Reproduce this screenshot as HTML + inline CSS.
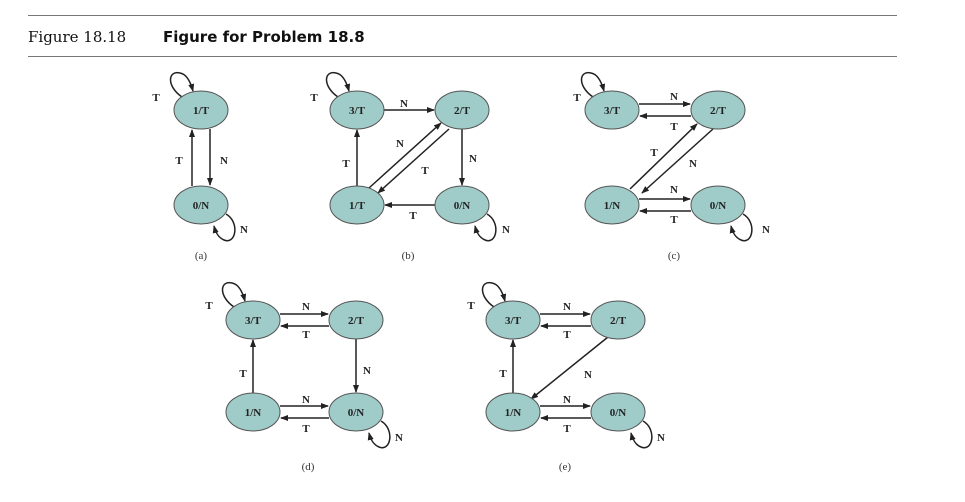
<!DOCTYPE html>
<html><head><meta charset="utf-8"><style>
html,body{margin:0;padding:0;background:#fff;}
body{width:965px;height:502px;position:relative;overflow:hidden;}
svg{position:absolute;left:0;top:0;}
.n{fill:#9fcbc8;stroke:#555;stroke-width:1;}
.t{font-family:"Liberation Serif",serif;font-weight:bold;font-size:11px;fill:#222;text-anchor:middle;}
.c{font-family:"Liberation Serif",serif;font-size:11px;fill:#333;text-anchor:middle;}
.e{stroke:#222;stroke-width:1.5;fill:none;marker-end:url(#ah);}
</style></head><body>
<svg width="965" height="502" viewBox="0 0 965 502">
<defs><marker id="ah" markerWidth="8" markerHeight="6" refX="7" refY="3" orient="auto" markerUnits="userSpaceOnUse"><path d="M0,0 L8,3 L0,6 Z" fill="#222"/></marker></defs>
<line x1="28" y1="15.5" x2="897" y2="15.5" stroke="#777" stroke-width="1"/>
<line x1="28" y1="56.5" x2="897" y2="56.5" stroke="#777" stroke-width="1"/>
<text x="28" y="42" style="font-family:'DejaVu Serif','Liberation Serif',serif;font-size:15px;fill:#111">Figure 18.18</text>
<text x="163" y="42" style="font-family:'DejaVu Sans','Liberation Sans',sans-serif;font-weight:bold;font-size:15px;fill:#111">Figure for Problem 18.8</text>

<!-- (a) -->
<path class="e" d="M182,97 C166,86 168,70 180,73 C186,74 190,80 193,91"/>
<path class="e" d="M226,214 C240,222 236,245 224,240 C219,238 216,234 214,226"/>
<line class="e" x1="192" y1="186" x2="192" y2="130"/>
<line class="e" x1="210" y1="129" x2="210" y2="185"/>
<ellipse class="n" cx="201" cy="110" rx="27" ry="19"/><text class="t" x="201" y="114">1/T</text>
<ellipse class="n" cx="201" cy="205" rx="27" ry="19"/><text class="t" x="201" y="209">0/N</text>
<text class="t" x="156" y="101">T</text><text class="t" x="179" y="164">T</text><text class="t" x="224" y="164">N</text><text class="t" x="244" y="233">N</text>
<text class="c" x="201" y="259">(a)</text>

<!-- (b) -->
<path class="e" d="M338,97 C322,86 324,70 336,73 C342,74 346,80 349,91"/>
<path class="e" d="M487,214 C501,222 497,245 485,240 C480,238 477,234 475,226"/>
<line class="e" x1="384" y1="110" x2="434" y2="110"/>
<line class="e" x1="357" y1="186" x2="357" y2="130"/>
<line class="e" x1="462" y1="129" x2="462" y2="185"/>
<line class="e" x1="435" y1="205" x2="385" y2="205"/>
<line class="e" x1="369" y1="188" x2="441" y2="123"/>
<line class="e" x1="449" y1="129" x2="378" y2="193"/>
<ellipse class="n" cx="357" cy="110" rx="27" ry="19"/><text class="t" x="357" y="114">3/T</text>
<ellipse class="n" cx="462" cy="110" rx="27" ry="19"/><text class="t" x="462" y="114">2/T</text>
<ellipse class="n" cx="357" cy="205" rx="27" ry="19"/><text class="t" x="357" y="209">1/T</text>
<ellipse class="n" cx="462" cy="205" rx="27" ry="19"/><text class="t" x="462" y="209">0/N</text>
<text class="t" x="314" y="101">T</text><text class="t" x="404" y="107">N</text><text class="t" x="400" y="147">N</text><text class="t" x="425" y="174">T</text><text class="t" x="346" y="167">T</text><text class="t" x="473" y="162">N</text><text class="t" x="413" y="219">T</text><text class="t" x="506" y="233">N</text>
<text class="c" x="408" y="259">(b)</text>

<!-- (c) -->
<path class="e" d="M593,97 C577,86 579,70 591,73 C597,74 601,80 604,91"/>
<path class="e" d="M743,214 C757,222 753,245 741,240 C736,238 733,234 731,226"/>
<line class="e" x1="639" y1="104" x2="690" y2="104"/>
<line class="e" x1="691" y1="116" x2="640" y2="116"/>
<line class="e" x1="639" y1="199" x2="690" y2="199"/>
<line class="e" x1="691" y1="211" x2="640" y2="211"/>
<line class="e" x1="630" y1="189" x2="697" y2="124"/>
<line class="e" x1="713" y1="129" x2="642" y2="193"/>
<ellipse class="n" cx="612" cy="110" rx="27" ry="19"/><text class="t" x="612" y="114">3/T</text>
<ellipse class="n" cx="718" cy="110" rx="27" ry="19"/><text class="t" x="718" y="114">2/T</text>
<ellipse class="n" cx="612" cy="205" rx="27" ry="19"/><text class="t" x="612" y="209">1/N</text>
<ellipse class="n" cx="718" cy="205" rx="27" ry="19"/><text class="t" x="718" y="209">0/N</text>
<text class="t" x="577" y="101">T</text><text class="t" x="674" y="100">N</text><text class="t" x="674" y="130">T</text><text class="t" x="654" y="156">T</text><text class="t" x="693" y="167">N</text><text class="t" x="674" y="193">N</text><text class="t" x="674" y="223">T</text><text class="t" x="766" y="233">N</text>
<text class="c" x="674" y="259">(c)</text>

<!-- (d) -->
<path class="e" d="M234,307 C218,296 220,280 232,283 C238,284 242,290 245,301"/>
<path class="e" d="M381,421 C395,429 391,452 379,447 C374,445 371,441 369,433"/>
<line class="e" x1="280" y1="314" x2="328" y2="314"/>
<line class="e" x1="329" y1="326" x2="281" y2="326"/>
<line class="e" x1="280" y1="406" x2="328" y2="406"/>
<line class="e" x1="329" y1="418" x2="281" y2="418"/>
<line class="e" x1="253" y1="393" x2="253" y2="340"/>
<line class="e" x1="356" y1="339" x2="356" y2="392"/>
<ellipse class="n" cx="253" cy="320" rx="27" ry="19"/><text class="t" x="253" y="324">3/T</text>
<ellipse class="n" cx="356" cy="320" rx="27" ry="19"/><text class="t" x="356" y="324">2/T</text>
<ellipse class="n" cx="253" cy="412" rx="27" ry="19"/><text class="t" x="253" y="416">1/N</text>
<ellipse class="n" cx="356" cy="412" rx="27" ry="19"/><text class="t" x="356" y="416">0/N</text>
<text class="t" x="209" y="309">T</text><text class="t" x="306" y="310">N</text><text class="t" x="306" y="338">T</text><text class="t" x="243" y="377">T</text><text class="t" x="367" y="374">N</text><text class="t" x="306" y="403">N</text><text class="t" x="306" y="432">T</text><text class="t" x="399" y="441">N</text>
<text class="c" x="308" y="470">(d)</text>

<!-- (e) -->
<path class="e" d="M494,307 C478,296 480,280 492,283 C498,284 502,290 505,301"/>
<path class="e" d="M643,421 C657,429 653,452 641,447 C636,445 633,441 631,433"/>
<line class="e" x1="540" y1="314" x2="590" y2="314"/>
<line class="e" x1="591" y1="326" x2="541" y2="326"/>
<line class="e" x1="540" y1="406" x2="590" y2="406"/>
<line class="e" x1="591" y1="418" x2="541" y2="418"/>
<line class="e" x1="513" y1="393" x2="513" y2="340"/>
<line class="e" x1="608" y1="337" x2="531" y2="399"/>
<ellipse class="n" cx="513" cy="320" rx="27" ry="19"/><text class="t" x="513" y="324">3/T</text>
<ellipse class="n" cx="618" cy="320" rx="27" ry="19"/><text class="t" x="618" y="324">2/T</text>
<ellipse class="n" cx="513" cy="412" rx="27" ry="19"/><text class="t" x="513" y="416">1/N</text>
<ellipse class="n" cx="618" cy="412" rx="27" ry="19"/><text class="t" x="618" y="416">0/N</text>
<text class="t" x="471" y="309">T</text><text class="t" x="567" y="310">N</text><text class="t" x="567" y="338">T</text><text class="t" x="503" y="377">T</text><text class="t" x="588" y="378">N</text><text class="t" x="567" y="403">N</text><text class="t" x="567" y="432">T</text><text class="t" x="661" y="441">N</text>
<text class="c" x="565" y="470">(e)</text>
</svg>
</body></html>
